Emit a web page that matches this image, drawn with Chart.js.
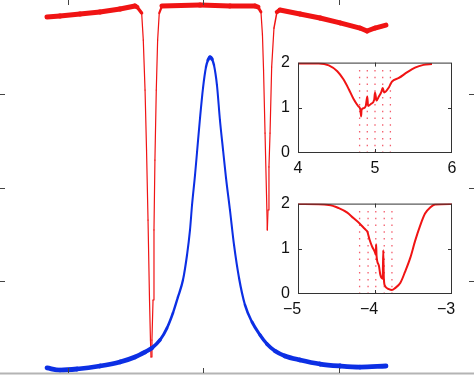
<!DOCTYPE html>
<html>
<head>
<meta charset="utf-8">
<script src="https://cdn.jsdelivr.net/npm/chart.js@4"></script>
<style>
  html, body { margin: 0; padding: 0; background: #fff; }
  #wrap { position: relative; width: 474px; height: 375px; }
  canvas { position: absolute; }
</style>
</head>
<body>
<div id="wrap">
  <canvas id="mainChart" width="474" height="375" style="left:0;top:0"></canvas>
  <canvas id="inset1" width="200" height="135" style="left:270px;top:45px"></canvas>
  <canvas id="inset2" width="200" height="135" style="left:270px;top:186px"></canvas>
</div>
<script>
// main plot: red trace (two dips) and blue peak
const redX = [0.847, 0.943, 1.091, 1.238, 1.386, 1.497, 1.512, 1.546, 1.558, 1.571, 1.582, 1.593, 1.604, 1.611, 1.615, 1.622, 1.630, 1.637, 1.644, 1.654, 1.664, 1.676, 1.696, 1.977, 2.198, 2.383, 2.405, 2.427, 2.438, 2.446, 2.457, 2.468, 2.474, 2.479, 2.486, 2.494, 2.506, 2.523, 2.545, 2.567, 2.715, 2.863, 3.011, 3.158, 3.210, 3.269, 3.350];
const redY = [3.819, 3.829, 3.851, 3.872, 3.904, 3.936, 3.925, 3.861, 3.573, 3.040, 2.400, 1.653, 0.800, 0.373, 0.192, 0.373, 0.800, 1.547, 2.293, 3.040, 3.573, 3.861, 3.936, 3.947, 3.936, 3.936, 3.925, 3.872, 3.627, 3.253, 2.581, 1.920, 1.547, 1.760, 2.219, 2.581, 3.285, 3.701, 3.872, 3.893, 3.851, 3.808, 3.755, 3.701, 3.669, 3.701, 3.733];

const blueX = [0.847, 0.943, 1.069, 1.238, 1.386, 1.497, 1.571, 1.622, 1.681, 1.733, 1.777, 1.814, 1.851, 1.881, 1.903, 1.918, 1.940, 1.955, 1.977, 1.999, 2.021, 2.036, 2.051, 2.065, 2.080, 2.102, 2.124, 2.147, 2.169, 2.198, 2.228, 2.265, 2.309, 2.361, 2.420, 2.471, 2.531, 2.604, 2.715, 2.863, 3.011, 3.158, 3.350];
const blueY = [0.075, 0.053, 0.064, 0.096, 0.139, 0.192, 0.245, 0.288, 0.373, 0.501, 0.661, 0.832, 1.013, 1.280, 1.547, 1.813, 2.133, 2.379, 2.741, 3.061, 3.285, 3.360, 3.392, 3.371, 3.307, 3.093, 2.720, 2.400, 2.101, 1.760, 1.387, 1.035, 0.747, 0.565, 0.427, 0.331, 0.256, 0.203, 0.160, 0.117, 0.096, 0.085, 0.096];

const mainXTicks = [1, 2, 3];
const mainYTicks = [1, 2, 3];

// inset 1 (upper)
const in1X = [4.00, 4.27, 4.40, 4.51, 4.59, 4.66, 4.72, 4.78, 4.81, 4.82, 4.825, 4.85, 4.88, 4.90, 4.91, 4.95, 4.99, 5.00, 5.02, 5.05, 5.08, 5.10, 5.12, 5.18, 5.22, 5.31, 5.42, 5.52, 5.63, 5.74];
const in1Y = [1.98, 1.98, 1.94, 1.81, 1.63, 1.41, 1.20, 1.04, 0.96, 0.81, 0.95, 0.99, 1.04, 1.25, 1.04, 1.09, 1.18, 1.34, 1.16, 1.25, 1.34, 1.44, 1.34, 1.45, 1.58, 1.66, 1.79, 1.89, 1.95, 1.97];
const in1Marks = [4.8, 4.9, 5.0, 5.1, 5.2];
const in1XTicks = [4, 5, 6];

// inset 2 (lower)
const in2X = [-5.00, -4.60, -4.47, -4.36, -4.28, -4.20, -4.15, -4.12, -4.10, -4.07, -4.04, -4.00, -3.99, -3.985, -3.98, -3.95, -3.93, -3.90, -3.893, -3.885, -3.87, -3.82, -3.78, -3.74, -3.67, -3.61, -3.54, -3.48, -3.41, -3.35, -3.28, -3.22, -3.00];
const in2Y = [1.99, 1.97, 1.90, 1.80, 1.68, 1.56, 1.47, 1.42, 1.38, 1.20, 1.06, 0.92, 0.87, 1.10, 0.85, 0.63, 0.42, 0.34, 0.97, 0.34, 0.18, 0.11, 0.09, 0.13, 0.25, 0.49, 0.81, 1.17, 1.53, 1.78, 1.92, 1.98, 1.99];
const in2Marks = [-4.2, -4.09, -3.99, -3.88, -3.78];
const in2XTicks = [-5, -4, -3];

const insetYTicks = [0, 1, 2];
const markTop = 1.9;

const RED = '#f01414';
const BLUE = '#0c2fe4';
const FONT = { family: 'Liberation Sans, Arial, sans-serif', size: 16 };

function pts(xs, ys) { return xs.map((x, i) => ({ x: x, y: ys[i] })); }

// noisy trace looks thick where flat, thin where steep
function slopeWidth(thick, thin, k) {
    return ctx => {
        const dx = Math.abs(ctx.p1.x - ctx.p0.x) || 0.01;
        const s = Math.abs(ctx.p1.y - ctx.p0.y) / dx / k;
        return thin + (thick - thin) / (1 + s * s);
    };
}

// inward tick marks (and optional box)
const frame = {
    id: 'frame',
    afterDatasetsDraw(chart, args, opts) {
        const c = chart.ctx, a = chart.chartArea;
        const xs = chart.scales.x, ys = chart.scales.y;
        const off = opts.bottomLine ? 2 : 0;
        c.save();
        c.strokeStyle = opts.color || '#333';
        c.lineWidth = 1;
        if (opts.box) c.strokeRect(a.left + 0.5, a.top + 0.5, a.right - a.left - 1, a.bottom - a.top - 1);
        if (opts.bottomLine) {
            c.strokeStyle = '#b4b4b4';
            c.lineWidth = 2;
            c.beginPath(); c.moveTo(a.left, a.bottom - 1.5); c.lineTo(a.right, a.bottom - 1.5); c.stroke();
            c.strokeStyle = opts.color || '#333';
            c.lineWidth = 1;
        }
        const L = opts.len || 4;
        c.beginPath();
        (opts.xTicks || []).forEach(v => {
            const px = Math.round(xs.getPixelForValue(v)) + 0.5;
            c.moveTo(px, a.top); c.lineTo(px, a.top + L);
            c.moveTo(px, a.bottom - off); c.lineTo(px, a.bottom - L - off);
        });
        (opts.yTicks || []).forEach(v => {
            const py = Math.round(ys.getPixelForValue(v)) + 0.5;
            c.moveTo(a.left, py); c.lineTo(a.left + L, py);
            c.moveTo(a.right, py); c.lineTo(a.right - L, py);
        });
        c.stroke();
        c.restore();
    }
};

new Chart(document.getElementById('mainChart'), {
    type: 'line',
    data: {
        datasets: [{
            data: pts(blueX, blueY),
            borderColor: BLUE,
            borderWidth: 4.5,
            segment: { borderWidth: slopeWidth(4.8, 2, 1.2) },
            borderCapStyle: 'round',
            borderJoinStyle: 'round',
            cubicInterpolationMode: 'monotone',
            pointRadius: 0
        }, {
            data: pts(redX, redY),
            borderColor: RED,
            borderWidth: 5,
            segment: { borderWidth: slopeWidth(5, 1.2, 1.5) },
            borderCapStyle: 'round',
            borderJoinStyle: 'round',
            pointRadius: 0,
            tension: 0
        }]
    },
    options: {
        responsive: false,
        animation: false,
        layout: { padding: 0 },
        plugins: {
            legend: { display: false },
            tooltip: { enabled: false },
            frame: { xTicks: mainXTicks, yTicks: mainYTicks, len: 5, bottomLine: true, color: '#444' }
        },
        scales: {
            x: { type: 'linear', min: 0.5, max: 4, display: false },
            y: { type: 'linear', min: 0, max: 4, display: false }
        }
    },
    plugins: [frame]
});

function insetChart(id, xs, ys, marks, xTicks, xMin, xMax, labelShift) {
    const datasets = [{
        data: pts(xs, ys),
        borderColor: RED,
        borderWidth: 2,
        borderJoinStyle: 'round',
        cubicInterpolationMode: 'monotone',
        pointRadius: 0
    }];
    marks.forEach(m => {
        datasets.push({
            data: [{ x: m, y: 0 }, { x: m, y: markTop }],
            borderColor: 'rgba(240,40,60,0.75)',
            borderWidth: 1.3,
            borderDash: [1.5, 5.3],
            pointRadius: 0
        });
    });
    return new Chart(document.getElementById(id), {
        type: 'line',
        data: { datasets: datasets },
        options: {
            responsive: false,
            animation: false,
            layout: { padding: { top: 15, right: 18, left: 0, bottom: 0 } },
            plugins: {
                legend: { display: false },
                tooltip: { enabled: false },
                frame: { box: true, xTicks: [xTicks[1]], yTicks: [1], len: 4, color: '#333' }
            },
            scales: {
                x: {
                    type: 'linear', min: xMin, max: xMax,
                    afterBuildTicks: s => { s.ticks = xTicks.map(v => ({ value: v })); },
                    afterFit: s => { s.height = 27; },
                    grid: { display: false, drawTicks: false },
                    border: { display: false },
                    ticks: {
                        padding: 6, labelOffset: labelShift, color: '#111', font: FONT,
                        callback: v => String(v).replace('-', '\u2212')
                    }
                },
                y: {
                    type: 'linear', min: 0, max: 2,
                    afterBuildTicks: s => { s.ticks = insetYTicks.map(v => ({ value: v })); },
                    afterFit: s => { s.width = 28; },
                    grid: { display: false, drawTicks: false },
                    border: { display: false },
                    ticks: { padding: 8, color: '#111', font: FONT }
                }
            }
        },
        plugins: [frame]
    });
}

insetChart('inset1', in1X, in1Y, in1Marks, in1XTicks, 4, 6, 0);
insetChart('inset2', in2X, in2Y, in2Marks, in2XTicks, -5, -3, -6);
</script>
</body>
</html>
